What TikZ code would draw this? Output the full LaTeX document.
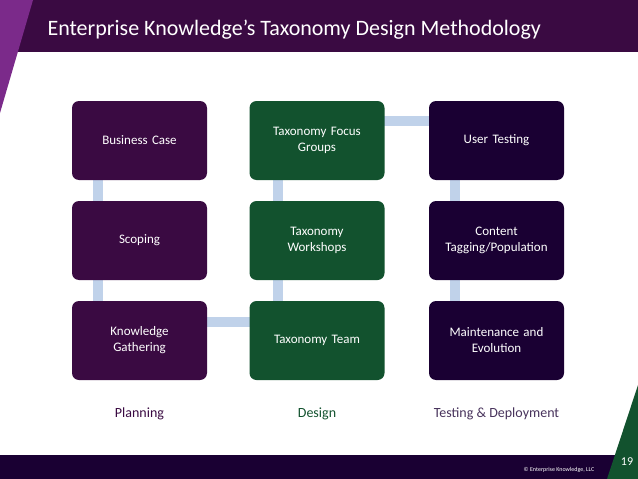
\documentclass[tikz,border=0pt]{standalone}
\usepackage{fontspec}
\setmainfont{Carlito}
\definecolor{ekpurple}{HTML}{3A0A42}
\definecolor{ekgreen}{HTML}{12522E}
\definecolor{eknavy}{HTML}{1A0033}
\definecolor{eklight}{HTML}{7B2A8A}
\definecolor{ekblue}{HTML}{C0D2EA}
\begin{document}
\begin{tikzpicture}[x=1pt,y=-1pt,
  box/.style={rounded corners=7pt,minimum width=135pt,minimum height=79pt,text width=110pt,align=center,text=white,font=\fontsize{13}{16}\selectfont,anchor=center},
  link/.style={ekblue,line width=10pt},
  lab/.style={font=\fontsize{14}{16}\selectfont}]
\useasboundingbox (0,0) rectangle (638,479);
\fill[white] (0,0) rectangle (638,479);
\fill[ekpurple] (0,0) rectangle (638,52);
\fill[eklight] (0,0) -- (33,0) -- (0,113) -- cycle;
\node[text=white,font=\fontsize{22}{26}\selectfont,anchor=west] (title) at (44,30) {Enterprise Knowledge’s Taxonomy Design Methodology};
\fill[eknavy] (0,455) rectangle (638,479);
\fill[ekgreen] (638,385) -- (638,479) -- (607,479) -- cycle;
\node[text=white,font=\fontsize{12}{14}\selectfont] (pg) at (627,462) {19};
\node[text=white,font=\fontsize{6}{7}\selectfont] (copy) at (559,470) {© Enterprise Knowledge, LLC};
% connectors
\coordinate (c1a) at (98,140); \coordinate (c1b) at (98,340);
\coordinate (c2a) at (278,140); \coordinate (c2b) at (278,340);
\coordinate (c3a) at (455,140); \coordinate (c3b) at (455,340);
\coordinate (h1a) at (139,322); \coordinate (h1b) at (317,322);
\coordinate (h2a) at (317,121); \coordinate (h2b) at (496,121);
\draw[link] (c1a) -- (c1b); \draw[link] (c2a) -- (c2b); \draw[link] (c3a) -- (c3b);
\draw[link] (h1a) -- (h1b); \draw[link] (h2a) -- (h2b);
% boxes
\node[box,fill=ekpurple] (b1) at (139.5,140.5) {Business Case};
\node[box,fill=ekpurple] (b2) at (139.5,240.5) {Scoping};
\node[box,fill=ekpurple] (b3) at (139.5,340.5) {Knowledge\\Gathering};
\node[box,fill=ekgreen] (g1) at (317,140.5) {Taxonomy Focus\\Groups};
\node[box,fill=ekgreen] (g2) at (317,240.5) {Taxonomy\\Workshops};
\node[box,fill=ekgreen] (g3) at (317,340.5) {Taxonomy Team};
\node[box,fill=eknavy] (t1) at (496.5,140.5) {User Testing};
\node[box,fill=eknavy] (t2) at (496.5,240.5) {Content\\Tagging/Population};
\node[box,fill=eknavy] (t3) at (496.5,340.5) {Maintenance and\\Evolution};
\node[lab,text=ekpurple] (l1) at (139.5,414) {Planning};
\node[lab,text=ekgreen] (l2) at (317,414) {Design};
\node[lab,text=eknavy!80!white] (l3) at (496.5,414) {Testing \& Deployment};
\end{tikzpicture}
\end{document}
